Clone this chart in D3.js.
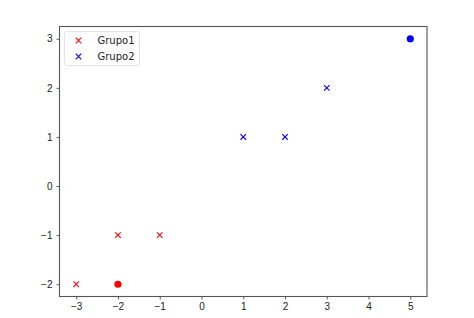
<!DOCTYPE html>
<html>
<head>
<meta charset="utf-8">
<script src="https://cdn.jsdelivr.net/npm/d3@7"></script>
<style>
  body { margin: 0; background: #fff; }
  svg { font-family: "DejaVu Sans", sans-serif; }
</style>
</head>
<body>
<svg id="chart" width="474" height="318"></svg>
<script>
// Data
const grupo1X = [-3, -2, -1];
const grupo1Y = [-2, -1, -1];
const grupo2X = [1, 2, 3];
const grupo2Y = [1, 1, 2];
const dotX = [-2, 5];
const dotY = [-2, 3];
const dotColors = ["#ff0000", "#0000ff"];
const xTicks = [-3, -2, -1, 0, 1, 2, 3, 4, 5];
const yTicks = [-2, -1, 0, 1, 2, 3];
const seriesNames = ["Grupo1", "Grupo2"];
const seriesColors = ["#ff0000", "#0000ff"];

const margin = { top: 26.5, right: 47, bottom: 21.5, left: 59.5 };

const svg = d3.select("#chart");
const width = +svg.attr("width") - margin.left - margin.right;
const height = +svg.attr("height") - margin.top - margin.bottom;
const g = svg.append("g").attr("transform", `translate(${margin.left},${margin.top})`);

const x = d3.scaleLinear().domain([-3.4, 5.4]).range([0, width]);
const y = d3.scaleLinear().domain([-2.25, 3.25]).range([height, 0]);

const fmt = d => d < 0 ? "\u2212" + Math.abs(d) : String(d);

const xAxis = g.append("g")
  .attr("transform", `translate(0,${height})`)
  .call(d3.axisBottom(x).tickValues(xTicks).tickFormat(fmt).tickSize(3).tickPadding(3));
const yAxis = g.append("g")
  .call(d3.axisLeft(y).tickValues(yTicks).tickFormat(fmt).tickSize(3).tickPadding(4));

[xAxis, yAxis].forEach(a => {
  a.select(".domain").remove();
  a.selectAll("line").attr("stroke", "#333").attr("stroke-width", 0.8);
  a.selectAll("text").attr("fill", "#222").style("font-size", "10px");
});

// frame
g.append("rect")
  .attr("width", width).attr("height", height)
  .attr("fill", "none").attr("stroke", "#555").attr("stroke-width", 1.1);

const cross = d3.symbol().type(d3.symbolX).size(22);

function drawCrosses(xs, ys, color) {
  g.append("g").selectAll("path")
    .data(xs.map((v, i) => [v, ys[i]]))
    .join("path")
    .attr("d", cross)
    .attr("transform", d => `translate(${x(d[0])},${y(d[1])})`)
    .attr("fill", "none")
    .attr("stroke", color)
    .attr("stroke-width", 1.1);
}
drawCrosses(grupo1X, grupo1Y, seriesColors[0]);
drawCrosses(grupo2X, grupo2Y, seriesColors[1]);

g.append("g").selectAll("circle")
  .data(dotX.map((v, i) => [v, dotY[i], dotColors[i]]))
  .join("circle")
  .attr("cx", d => x(d[0]))
  .attr("cy", d => y(d[1]))
  .attr("r", 3.6)
  .attr("fill", d => d[2]);

// legend
const legend = g.append("g").attr("transform", "translate(5,5)");
legend.append("rect")
  .attr("width", 75).attr("height", 34)
  .attr("rx", 2)
  .attr("fill", "#fff").attr("fill-opacity", 0.8)
  .attr("stroke", "#ddd").attr("stroke-width", 0.8);
seriesNames.forEach((name, i) => {
  const row = legend.append("g").attr("transform", `translate(0,${9 + i * 16})`);
  row.append("path")
    .attr("d", cross)
    .attr("transform", "translate(14,0)")
    .attr("fill", "none")
    .attr("stroke", seriesColors[i])
    .attr("stroke-width", 1.1);
  row.append("text")
    .attr("x", 33).attr("y", 0).attr("dy", "0.35em")
    .style("font-size", "10px").attr("fill", "#222")
    .text(name);
});
</script>
</body>
</html>
